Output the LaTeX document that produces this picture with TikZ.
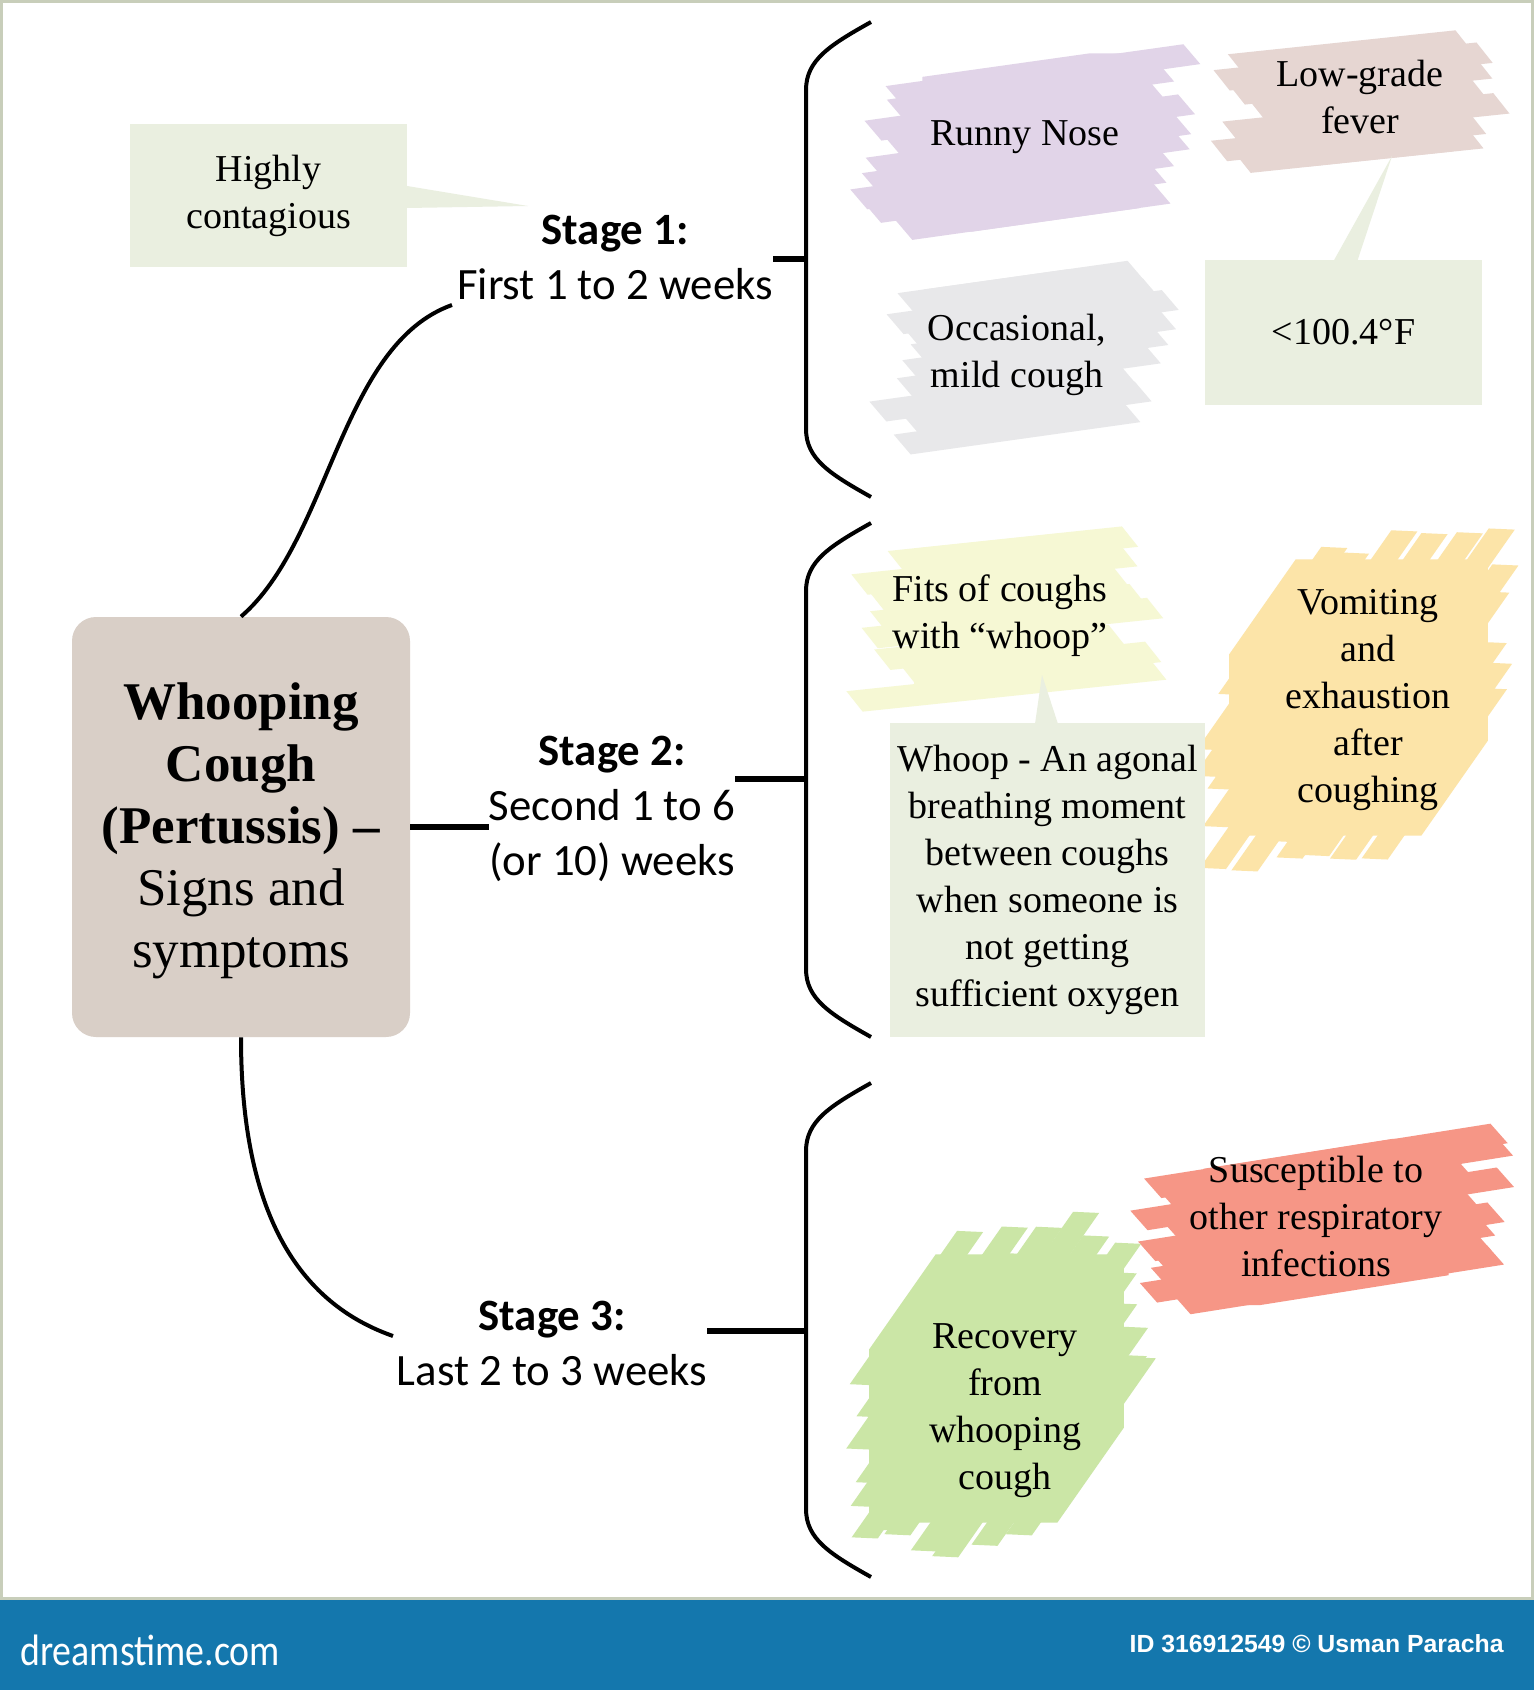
\documentclass[tikz,border=0pt]{standalone}
\usepackage{fontspec}
\setmainfont{Liberation Serif}
\newfontfamily\stagefont{Carlito}
\newfontfamily\condfont[FakeStretch=0.86]{Carlito}
\newfontfamily\creditfont{Liberation Sans}
\usetikzlibrary{calc}
\definecolor{maincol}{RGB}{217,207,199}
\definecolor{boxgreen}{RGB}{234,239,224}
\definecolor{purp}{RGB}{225,212,232}
\definecolor{pinkb}{RGB}{230,214,210}
\definecolor{greyc}{RGB}{232,232,234}
\definecolor{yellc}{RGB}{246,248,212}
\definecolor{orangec}{RGB}{252,228,168}
\definecolor{salmon}{RGB}{246,150,134}
\definecolor{greenc}{RGB}{203,230,166}
\definecolor{footblue}{RGB}{20,119,173}
\definecolor{bordercol}{RGB}{200,206,186}
% marker scribble: colour, x1, y1, x2, y2, angle, stroke length, nx, ny
\newcommand\scrib[9]{%
  \pgfmathsetmacro\shx{0.5*#7*cos(#6)}%
  \pgfmathsetmacro\shy{-0.5*#7*sin(#6)}%
  \pgfmathsetmacro\spx{11*sin(#6)}%
  \pgfmathsetmacro\spy{11*cos(#6)}%
  \pgfmathsetmacro\sex{14*cos(#6)}%
  \pgfmathsetmacro\sey{-14*sin(#6)}%
  \pgfmathsetmacro\cxa{#2+\shx}\pgfmathsetmacro\cxb{#4-\shx}%
  \pgfmathsetmacro\cya{#3-\shy}\pgfmathsetmacro\cyb{#5+\shy}%
  \pgfmathsetmacro\bsx{0.58*\shx}\pgfmathsetmacro\bsy{0.58*\shy}%
  \fill[#1] ({\cxa-\bsx},{\cyb-\bsy}) -- ({\cxa-\bsx},{\cya-\bsy}) -- ({\cxa+\bsx},{\cya+\bsy})
    -- ({\cxb+\bsx},{\cya+\bsy}) -- ({\cxb+\bsx},{\cyb+\bsy}) -- ({\cxb-\bsx},{\cyb-\bsy}) -- cycle;
  \foreach \i in {1,...,#8}{\foreach \j in {1,...,#9}{%
    \pgfmathsetmacro\mx{\cxa+(\i-0.5)/#8*(\cxb-\cxa)+14*(rnd-0.5)}%
    \pgfmathsetmacro\my{\cya+(\j-0.5)/#9*(\cyb-\cya)+6*(rnd-0.5)}%
    \pgfmathsetmacro\la{0.78+0.4*rnd}%
    \pgfmathsetmacro\lb{0.78+0.4*rnd}%
    \fill[#1] ({\mx-\la*\shx+\spx},{\my-\la*\shy+\spy})
      -- ({\mx+\lb*\shx+\spx+\sex},{\my+\lb*\shy+\spy+\sey})
      -- ({\mx+\lb*\shx-\spx},{\my+\lb*\shy-\spy})
      -- ({\mx-\la*\shx-\spx-\sex},{\my-\la*\shy-\spy-\sey}) -- cycle;
  }}%
}
\newcommand\mybrace[2]{%
  \draw[line] (871,#1) .. controls (830,{#1+23}) and (806,{#1+38}) .. (806,{#1+68})
    -- (806,{#2-68}) .. controls (806,{#2-38}) and (830,{#2-23}) .. (871,#2);
}
\begin{document}
\begin{tikzpicture}[x=0.5pt,y=-0.5pt,
  line/.style={line width=2pt, black},
  conn/.style={line width=2.8pt, black},
  body/.style={font=\fontsize{19}{23.5}\selectfont, align=center, inner sep=0pt},
  stagelbl/.style={font=\stagefont\fontsize{22.4}{27.5}\selectfont, align=center, inner sep=0pt},
  box/.style={fill=boxgreen, inner sep=0pt, align=center, font=\fontsize{19}{23.5}\selectfont}
]
\pgfmathsetseed{11}
\useasboundingbox (0,0) rectangle (1534,1690);
\fill[white] (0,0) rectangle (1534,1600);
\draw[bordercol, line width=1.5pt] (1.5,1.5) rectangle (1532.5,1598);

% scribbles
\scrib{purp}{862}{45}{1200}{240}{8}{290}{1}{9}
\scrib{pinkb}{1218}{30}{1505}{172}{6}{250}{1}{7}
\scrib{greyc}{872}{262}{1168}{452}{8}{250}{1}{9}
\scrib{yellc}{862}{528}{1158}{705}{6}{250}{1}{8}
\scrib{orangec}{1205}{525}{1512}{870}{55}{200}{6}{6}
\scrib{salmon}{1135}{1128}{1517}{1316}{9}{330}{1}{9}
\scrib{greenc}{845}{1220}{1148}{1557}{55}{200}{6}{6}

% callout tails
\fill[boxgreen] (407,186) -- (528,206) -- (407,208) -- cycle;
\fill[boxgreen] (1333,262) -- (1392,156) -- (1357,262) -- cycle;
\fill[boxgreen] (1035,724) -- (1042,675) -- (1058,724) -- cycle;

% boxes
\node[box, minimum width=138.5pt, minimum height=71.5pt] (hc) at (268.5,195.5) {\raisebox{-1.5pt}{\begin{tabular}{@{}c@{}}Highly\\contagious\end{tabular}}};
\node[box, minimum width=138.5pt, minimum height=72.5pt] (temp) at (1343.5,332.5) {<100.4°F};
\node[box, minimum width=157.5pt, minimum height=157pt] (whoop) at (1047.5,880)
  {Whoop - An agonal\\breathing moment\\between coughs\\when someone is\\not getting\\sufficient oxygen};

% scribble texts
\node[body] (runny) at (1025,137) {Runny Nose};
\node[body] (fever) at (1360,97) {Low-grade\\fever};
\node[body] (occ) at (1017,355) {Occasional,\\mild cough};
\node[body] (fits) at (1000,616) {Fits of coughs\\with “whoop”};
\node[body] (vom) at (1368,700) {Vomiting\\and\\exhaustion\\after\\coughing};
\node[body] (susc) at (1316,1216) {Susceptible to\\other respiratory\\infections};
\node[body] (rec) at (1005,1411) {Recovery\\from\\whooping\\cough};

% central node
\node[fill=maincol, rounded corners=12pt, minimum width=169pt, minimum height=210pt,
  inner sep=0pt, align=center, font=\fontsize{26.5}{31}\selectfont] (main) at (241,827) {};
\node[align=center, inner sep=0pt, font=\fontsize{26.5}{31}\selectfont] (title) at (241,831)
  {\textbf{Whooping}\\\textbf{Cough}\\\textbf{(Pertussis) –}\\Signs and\\symptoms};

% stage labels
\node[stagelbl] (s1) at (615,257) {\textbf{Stage 1:}\\First 1 to 2 weeks};
\node[stagelbl] (s2) at (612,809) {\textbf{Stage 2:}\\Second 1 to 6\\(or 10) weeks};
\node[stagelbl] (s3) at (552,1343) {\textbf{Stage 3:}\\Last 2 to 3 weeks};

% connectors
\coordinate (c1) at (452,305);
\coordinate (c3) at (393,1336);
\coordinate (b1) at (806,259);
\coordinate (b2) at (806,779);
\coordinate (b3) at (806,1331);
\draw[line] (main.north) .. controls (330,540) and (340,345) .. (c1);
\draw[conn] (main.east) -- (main.east -| s2.west);
\draw[line] (main.south) .. controls (241,1200) and (290,1300) .. (c3);
\draw[conn] (s1.east |- b1) -- (b1);
\draw[conn] (s2.east |- b2) -- (b2);
\draw[conn] (s3.east |- b3) -- (b3);

% braces
\mybrace{22}{497}
\mybrace{523}{1037}
\mybrace{1083}{1577}

% footer
\fill[footblue] (0,1600) rectangle (1534,1690);
\node[anchor=west, white, inner sep=0pt, font=\condfont\fontsize{22}{22}\selectfont] (logo) at (20,1650) {dreamstime.com};
\node[anchor=east, white, inner sep=0pt, font=\creditfont\bfseries\fontsize{12.4}{12.4}\selectfont] (credit) at (1504,1644) {ID 316912549 © Usman Paracha};
\end{tikzpicture}
\end{document}
